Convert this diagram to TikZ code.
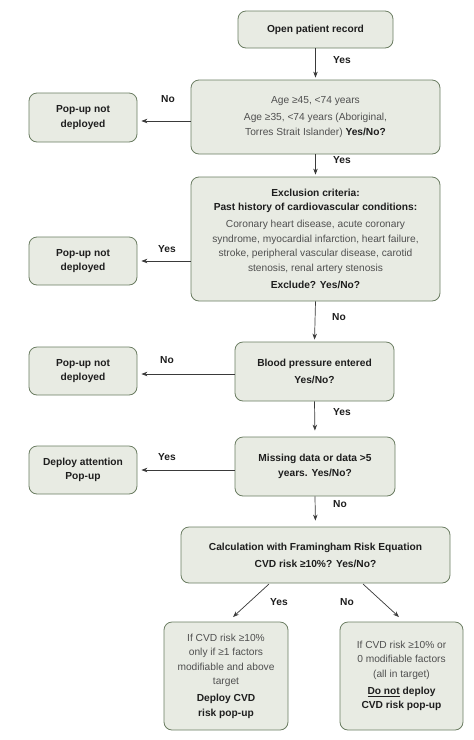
\documentclass[tikz,border=0pt]{standalone}
\usepackage{fontspec}
\setmainfont{Liberation Sans}
\usetikzlibrary{arrows.meta}
\definecolor{boxfill}{HTML}{E8EBE3}
\definecolor{bord}{HTML}{6B7D62}
\definecolor{txtgray}{HTML}{505050}
\definecolor{txtdark}{HTML}{1E1E1E}
\definecolor{arrowc}{HTML}{3A3A3A}
\tikzset{
  box/.style={draw=bord, fill=boxfill, rounded corners=8pt, line width=0.8pt, align=center, inner sep=0pt, text=txtgray, font=\fontsize{10.2}{14.5}\selectfont},
  lbl/.style={font=\fontsize{10.2}{12}\selectfont\bfseries, text=txtdark, inner sep=0pt},
  arr/.style={-{Stealth[length=6pt,width=4.5pt]}, line width=0.7pt, draw=arrowc},
}
\newcommand{\bd}[1]{\textcolor{txtdark}{\bfseries #1}}
\begin{document}
\begin{tikzpicture}[x=1pt,y=-1pt]
\fill[white] (0,0) rectangle (474,740);
\useasboundingbox (0,0) rectangle (474,740);

\node[box, minimum width=155pt, minimum height=37pt] (b1) at (315.5,29.5) {\bd{Open patient record}};
\node[box, minimum width=249pt, minimum height=74pt] (b2) at (315.5,117) {Age ≥45, <74 years\\[3pt]Age ≥35, <74 years (Aboriginal,\\Torres Strait Islander) \bd{Yes/No?}};
\node[box, minimum width=249pt, minimum height=124pt] (b3) at (315.5,239) {\bd{Exclusion criteria:}\\\bd{Past history of cardiovascular conditions:}\\[2.5pt]Coronary heart disease, acute coronary\\syndrome, myocardial infarction, heart failure,\\stroke, peripheral vascular disease, carotid\\stenosis, renal artery stenosis\\[3pt]\bd{Exclude? Yes/No?}};
\node[box, minimum width=108pt, minimum height=49pt] (pl1) at (83,117.5) {\bd{Pop-up not}\\\bd{deployed}};
\node[box, minimum width=108pt, minimum height=48pt] (pl2) at (83,261) {\bd{Pop-up not}\\\bd{deployed}};
\node[box, minimum width=108pt, minimum height=48pt] (pl3) at (83,371) {\bd{Pop-up not}\\\bd{deployed}};
\node[box, minimum width=108pt, minimum height=48pt] (da) at (83,470) {\bd{Deploy attention}\\\bd{Pop-up}};
\node[box, minimum width=159pt, minimum height=59pt] (bp) at (314.5,371.5) {\bd{Blood pressure entered}\\[3pt]\bd{Yes/No?}};
\node[box, minimum width=160pt, minimum height=59pt] (md) at (315,466.5) {\bd{Missing data or data >5}\\\bd{years. Yes/No?}};
\node[box, minimum width=269pt, minimum height=56pt] (fr) at (315.5,555) {\bd{Calculation with Framingham Risk Equation}\\[2.5pt]\bd{CVD risk ≥10\%? Yes/No?}};
\node[box, minimum width=124pt, minimum height=108pt] (dy) at (226,676) {If CVD risk ≥10\%\\only if ≥1 factors\\modifiable and above\\target\\[2.5pt]\bd{Deploy CVD}\\\bd{risk pop-up}};
\node[box, minimum width=123pt, minimum height=108pt] (dn) at (401.5,676) {If CVD risk ≥10\% or\\0 modifiable factors\\(all in target)\\[2.5pt]\bd{\underline{Do not} deploy}\\\bd{CVD risk pop-up}};

\draw[arr, shorten >=2pt] (b1.south) -- (b2.north);
\draw[arr, shorten >=2pt] (b2.south) -- (b3.north);
\draw[arr, shorten >=2pt] (b3.south) -- (bp.north);
\draw[arr, shorten >=6pt] (bp.south) -- (md.north);
\draw[arr, shorten >=6pt] (md.south) -- (fr.north);
\draw[arr, shorten >=4pt] (b2.west |- 0,121) -- (pl1.east |- 0,121);
\draw[arr, shorten >=4pt] (pl2.east -| b3.west) -- (pl2.east);
\draw[arr, shorten >=4pt] (bp.west |- 0,374) -- (pl3.east |- 0,374);
\draw[arr, shorten >=4pt] (da.east -| md.west) -- (da.east);

\coordinate (ys) at (269,584);
\coordinate (ye) at (233,617);
\coordinate (ns) at (363,584);
\coordinate (ne) at (399,617);
\draw[arr] (ys) -- (ye);
\draw[arr] (ns) -- (ne);

\node[lbl] (l1) at (342,60) {Yes};
\node[lbl] (l2) at (168,99) {No};
\node[lbl] (l3) at (342,160) {Yes};
\node[lbl] (l4) at (167,249) {Yes};
\node[lbl] (l5) at (339,317) {No};
\node[lbl] (l6) at (167,360) {No};
\node[lbl] (l7) at (342,412) {Yes};
\node[lbl] (l8) at (167,457) {Yes};
\node[lbl] (l9) at (340,504) {No};
\node[lbl] (l10) at (279,602) {Yes};
\node[lbl] (l11) at (347,602) {No};
\end{tikzpicture}
\end{document}
